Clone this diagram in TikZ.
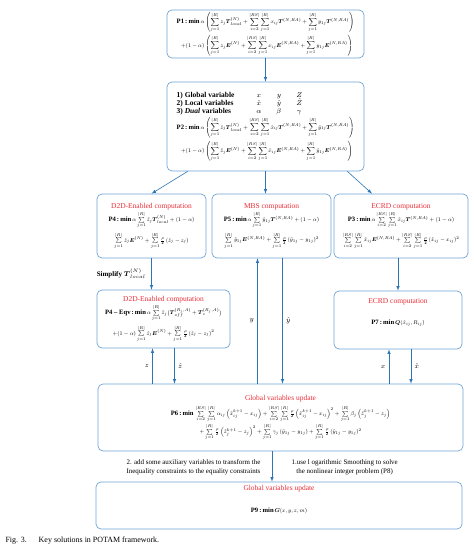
\documentclass[tikz,border=0pt]{standalone}
\usepackage{amsmath}
\usepackage{graphicx}
\usepackage{fontspec}
\setmainfont{Liberation Serif}
\definecolor{boxblue}{RGB}{110,165,215}
\definecolor{flowblue}{RGB}{46,117,182}
\definecolor{titlered}{RGB}{235,45,55}
\newcommand{\boxtitle}[1]{\textcolor{titlered}{\fontsize{7.5}{8.5}\selectfont #1}}
\newcommand{\fml}[1]{\scalebox{0.7}{\fontsize{8}{9}\selectfont$#1$}}
\newcommand{\sumR}{\sum\limits_{j=1}^{|R|}}
\newcommand{\sumRS}{\sum\limits_{i=2}^{|RS|}}
\newcommand{\rhoh}{\frac{\rho}{\mathbf{2}}}
\newcommand{\bT}{\boldsymbol{T}}
\newcommand{\bE}{\boldsymbol{E}}
\newcommand{\pname}[1]{\mbox{\fontsize{9.5}{10}\selectfont\textbf{#1\,:\,min}}\,}
\tikzset{
  Box/.style = { draw = boxblue, rounded corners = 5pt, line width = 0.7pt,
                 align = center, inner sep = 1pt,
                 font = \fontsize{7.5}{8.5}\selectfont },
  Flow/.style = { draw = flowblue, line width = 0.6pt, -latex },
  VarLabel/.style = { font = \fontsize{7}{8}\selectfont },
  NoteText/.style = { align = center, font = \fontsize{7}{9.5}\selectfont } }

\begin{document}
\begin{tikzpicture}[x=1bp,y=-1bp]
  \useasboundingbox (0,0) rectangle (474,556);

  \node[Box, minimum width=197bp, minimum height=48bp] (P1) at (265.5,34)
    {\fml{\begin{aligned}
      \pname{P1}\alpha &\left(\sumR z_j\bT_{local}^{(N)}+\sumRS\sumR x_{ij}\bT^{(N,RA)}+\sumR y_{1j}\bT^{(N,RA)}\right)\\[1pt]
      +(1-\alpha) &\left(\sumR z_j\bE^{(N)}+\sumRS\sumR x_{ij}\bE^{(N,RA)}+\sumR y_{1j}\bE^{(N,RA)}\right)
    \end{aligned}}};

  \node[Box, align=left, minimum width=197bp, minimum height=89bp] (P2) at (265.5,126.5)
    {\begin{tabular}{@{}l@{\hspace{22pt}}c@{\hspace{15pt}}c@{\hspace{15pt}}c@{}}
      \textbf{1) Global variable} & $x$ & $y$ & $Z$\\[-1pt]
      \textbf{2) Local variables} & $\hat{x}$ & $\hat{y}$ & $\hat{Z}$\\[-1pt]
      \textbf{3) \textit{Dual} variables} & $\alpha$ & $\beta$ & $\gamma$
    \end{tabular}\\[1pt]
    \fml{\begin{aligned}
      \pname{P2}\alpha &\left(\sumR \hat{z}_j\bT_{local}^{(N)}+\sumRS\sumR \hat{x}_{ij}\bT^{(N,RA)}+\sumR \hat{y}_{1j}\bT^{(N,RA)}\right)\\[1pt]
      +(1-\alpha) &\left(\sumR \hat{z}_j\bE^{(N)}+\sumRS\sumR \hat{x}_{ij}\bE^{(N,RA)}+\sumR \hat{y}_{1j}\bE^{(N,RA)}\right)
    \end{aligned}}};

  \node[Box, minimum width=109bp, minimum height=64bp] (P4) at (151.5,226)
    {\boxtitle{D2D-Enabled computation}\\[1pt]
     \fml{\pname{P4}\alpha\sumR\hat{z}_j\bT_{local}^{(N)}+(1-\alpha)}\\[3pt]
     \fml{\sumR\hat{z}_j\bE^{(N)}+\sumR\rhoh\left(\hat{z}_j-z_j\right)}};

  \node[Box, minimum width=119bp, minimum height=64bp] (P5) at (271.5,226)
    {\boxtitle{MBS computation}\\[1pt]
     \fml{\pname{P5}\alpha\sumR\hat{y}_{1j}\bT^{(N,RA)}+(1-\alpha)}\\[3pt]
     \fml{\sumR\hat{y}_{1j}\bE^{(N,RA)}+\sumR\rhoh\left(\hat{y}_{1j}-y_{1j}\right)^2}};

  \node[Box, minimum width=134bp, minimum height=64bp] (P3) at (401,226)
    {\boxtitle{ECRD computation}\\[1pt]
     \fml{\pname{P3}\alpha\sumRS\sumR\hat{x}_{ij}\bT^{(N,RA)}+(1-\alpha)}\\[3pt]
     \fml{\sumRS\sumR\hat{x}_{ij}\bE^{(N,RA)}+\sumRS\sumR\rhoh\left(\hat{x}_{ij}-x_{ij}\right)^2}};

  \node[Box, minimum width=133bp, minimum height=58bp] (P4e) at (163.5,319)
    {\boxtitle{D2D-Enabled computation}\\[1pt]
     \fml{\mbox{\fontsize{9.5}{10}\selectfont\textbf{P4 -- Eqv\,:\,min}}\,\alpha\sumR\hat{z}_j\big(\bT_{off}^{(R_j,A)}+\bT_{c}^{(R_j,A)}\big)}\\[3pt]
     \fml{+(1-\alpha)\sumR\hat{z}_j\bE^{(N)}+\sumR\rhoh\left(\hat{z}_j-z_j\right)^2}};

  \node[Box, minimum width=128bp, minimum height=58bp] (P7) at (398,320)
    {\boxtitle{ECRD computation}\\[13pt]
     \fml{\pname{P7}\boldsymbol{Q}(\hat{x}_{ij},R_{ij})}\\[8pt]};

  \node[Box, minimum width=365bp, minimum height=67bp] (P6) at (280.5,417.5)
    {\boxtitle{Global variables update}\\[3pt]
     \fml{\pname{P6}\sumRS\sumR\alpha_{ij}\left(\hat{x}_{ij}^{k+1}-x_{ij}\right)+\sumRS\sumR\rhoh\left(\hat{x}_{ij}^{k+1}-x_{ij}\right)^2+\sumR\beta_j\left(\hat{z}_j^{k+1}-z_j\right)}\\[1pt]
     \fml{+\sumR\rhoh\left(\hat{z}_j^{k+1}-z_j\right)^2+\sumR\gamma_j\left(\hat{y}_{1j}-y_{1j}\right)+\sumR\rhoh\left(\hat{y}_{1j}-y_{1j}\right)^2}};

  \node[Box, minimum width=366bp, minimum height=47bp] (P9) at (279,505.5)
    {\boxtitle{Global variables update}\\[13pt]
     \fml{\pname{P9}\boldsymbol{G}(x,y,z,m)}\\[5pt]};

  \node[anchor=west, font=\fontsize{8}{9}\selectfont] (Cap) at (2,541)
    {Fig. 3.\hspace{12pt}Key solutions in POTAM framework.};

  \draw[Flow] (P1.south) -- (P2.north);
  \draw[Flow] ([xshift=21bp]P2.south west) -- (P4.north);
  \draw[Flow] (P2.south) -- (P2.south |- P5.north);
  \draw[Flow] ([xshift=-17bp]P2.south east) -- ([xshift=-29bp]P3.north);
  \draw[Flow] (P4.south) -- node[left, VarLabel, xshift=-2bp]
    {\textbf{Simplify} $\bT_{local}^{(N)}$} (P4.south |- P4e.north);
  \draw[Flow] (P7.north |- P3.south) -- (P7.north);

  \draw[Flow] ([xshift=-11bp]P4e.south |- P6.north) -- node[left, VarLabel] {$z$}
    ([xshift=-11bp]P4e.south);
  \draw[Flow] ([xshift=11bp]P4e.south) -- node[right, VarLabel] {$\hat{z}$}
    ([xshift=11bp]P4e.south |- P6.north);
  \draw[Flow] ([xshift=-14bp]P5.south |- P6.north) -- node[left, VarLabel] {$y$}
    ([xshift=-14bp]P5.south);
  \draw[Flow] ([xshift=11bp]P5.south) -- node[right, VarLabel] {$\hat{y}$}
    ([xshift=11bp]P5.south |- P6.north);
  \draw[Flow] ([xshift=-9bp]P7.south |- P6.north) -- node[left, VarLabel] {$x$}
    ([xshift=-9bp]P7.south);
  \draw[Flow] ([xshift=13bp]P7.south) -- node[right, VarLabel] {$\hat{x}$}
    ([xshift=13bp]P7.south |- P6.north);

  \draw[Flow] ([xshift=-8.5bp]P6.south) --
    node[left, NoteText, xshift=-8bp, yshift=-1bp]
      {2. add some auxiliary variables to transform the\\Inequality constraints to the equality constraints}
    node[right, NoteText, xshift=16bp, yshift=-1bp]
      {1.use l ogarithmic Smoothing to solve\\the nonlinear integer problem (P8)}
    ([xshift=-8.5bp]P6.south |- P9.north);
\end{tikzpicture}
\end{document}
